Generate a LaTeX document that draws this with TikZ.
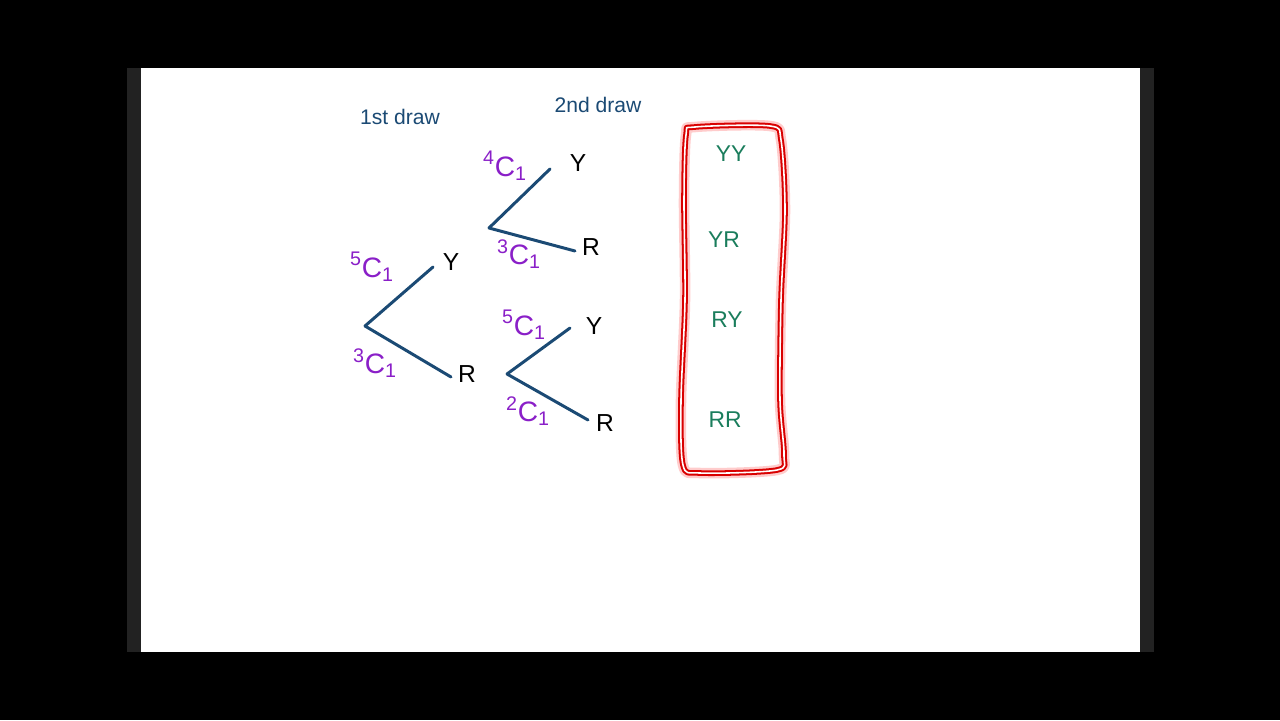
\documentclass[tikz,border=0pt]{standalone}
\usepackage{fontspec}
\setmainfont{Liberation Sans}
\definecolor{inkblue}{HTML}{1B4A74}
\definecolor{inkpurple}{HTML}{8A1FC8}
\definecolor{inkgreen}{HTML}{1A7D5C}
\definecolor{framegray}{HTML}{222222}
\tikzset{
  branch/.style={inkblue, line width=1.7pt, line cap=round},
  outcome/.style={font=\fontsize{14}{16}\selectfont, text=black, inner sep=0pt},
  combo/.style={font=\fontsize{16}{18}\selectfont, text=inkpurple, inner sep=0pt},
  header/.style={font=\fontsize{12}{14}\selectfont, text=inkblue, inner sep=0pt},
  pairlbl/.style={font=\fontsize{13}{15}\selectfont, text=inkgreen, inner sep=0pt}
}
\newcommand{\nchoose}[1]{\textsuperscript{#1}C\textsubscript{1}}
\begin{document}
\begin{tikzpicture}[x=0.02cm, y=-0.02cm]
\fill[black] (0,0) rectangle (1280,720);
\fill[framegray] (127,68) rectangle (1154,652);
\fill[white] (141,68) rectangle (1140,652);
% headers
\node[header] (h1) at (400,117) {1st draw};
\node[header] (h2) at (598,105) {2nd draw};
% 1st draw
\coordinate (a) at (365,326);
\coordinate (ay) at (433,267);
\coordinate (ar) at (451,377);
\node[outcome] (y1) at (451,262) {Y};
\node[outcome] (r1) at (467,374) {R};
\node[combo] (c1) at (372,267) {\nchoose{5}};
\node[combo] (c2) at (375,363) {\nchoose{3}};
\draw[branch] (a) -- (ay);
\draw[branch] (a) -- (ar);
% 2nd draw, top
\coordinate (b) at (489,228);
\coordinate (by) at (550,169);
\coordinate (br) at (575,251);
\node[outcome] (y2) at (578,163) {Y};
\node[outcome] (r2) at (591,247) {R};
\node[combo] (c3) at (505,166) {\nchoose{4}};
\node[combo] (c4) at (519,254) {\nchoose{3}};
\draw[branch] (b) -- (by);
\draw[branch] (b) -- (br);
% 2nd draw, bottom
\coordinate (c) at (507,374);
\coordinate (cy) at (570,328);
\coordinate (cr) at (588,420);
\node[outcome] (y3) at (594,326) {Y};
\node[outcome] (r3) at (605,423) {R};
\node[combo] (c5) at (524,325) {\nchoose{5}};
\node[combo] (c6) at (528,411) {\nchoose{2}};
\draw[branch] (c) -- (cy);
\draw[branch] (c) -- (cr);
% outcomes box
\foreach \w/\c in {6pt/red!20, 3.2pt/red!85!black, 0.9pt/white}
  \draw[line width=\w, \c, line join=round]
    plot[smooth cycle, tension=0.5] coordinates {(695,127) (770,126) (781,140) (785,210)
      (781,300) (780,400) (784,455) (777,470) (700,473) (683,465) (681,400) (685,300)
      (684,200) (686,135)};
\node[pairlbl] (yy) at (731,154) {YY};
\node[pairlbl] (yr) at (724,240) {YR};
\node[pairlbl] (ry) at (727,320) {RY};
\node[pairlbl] (rr) at (725,420) {RR};
\end{tikzpicture}
\end{document}
